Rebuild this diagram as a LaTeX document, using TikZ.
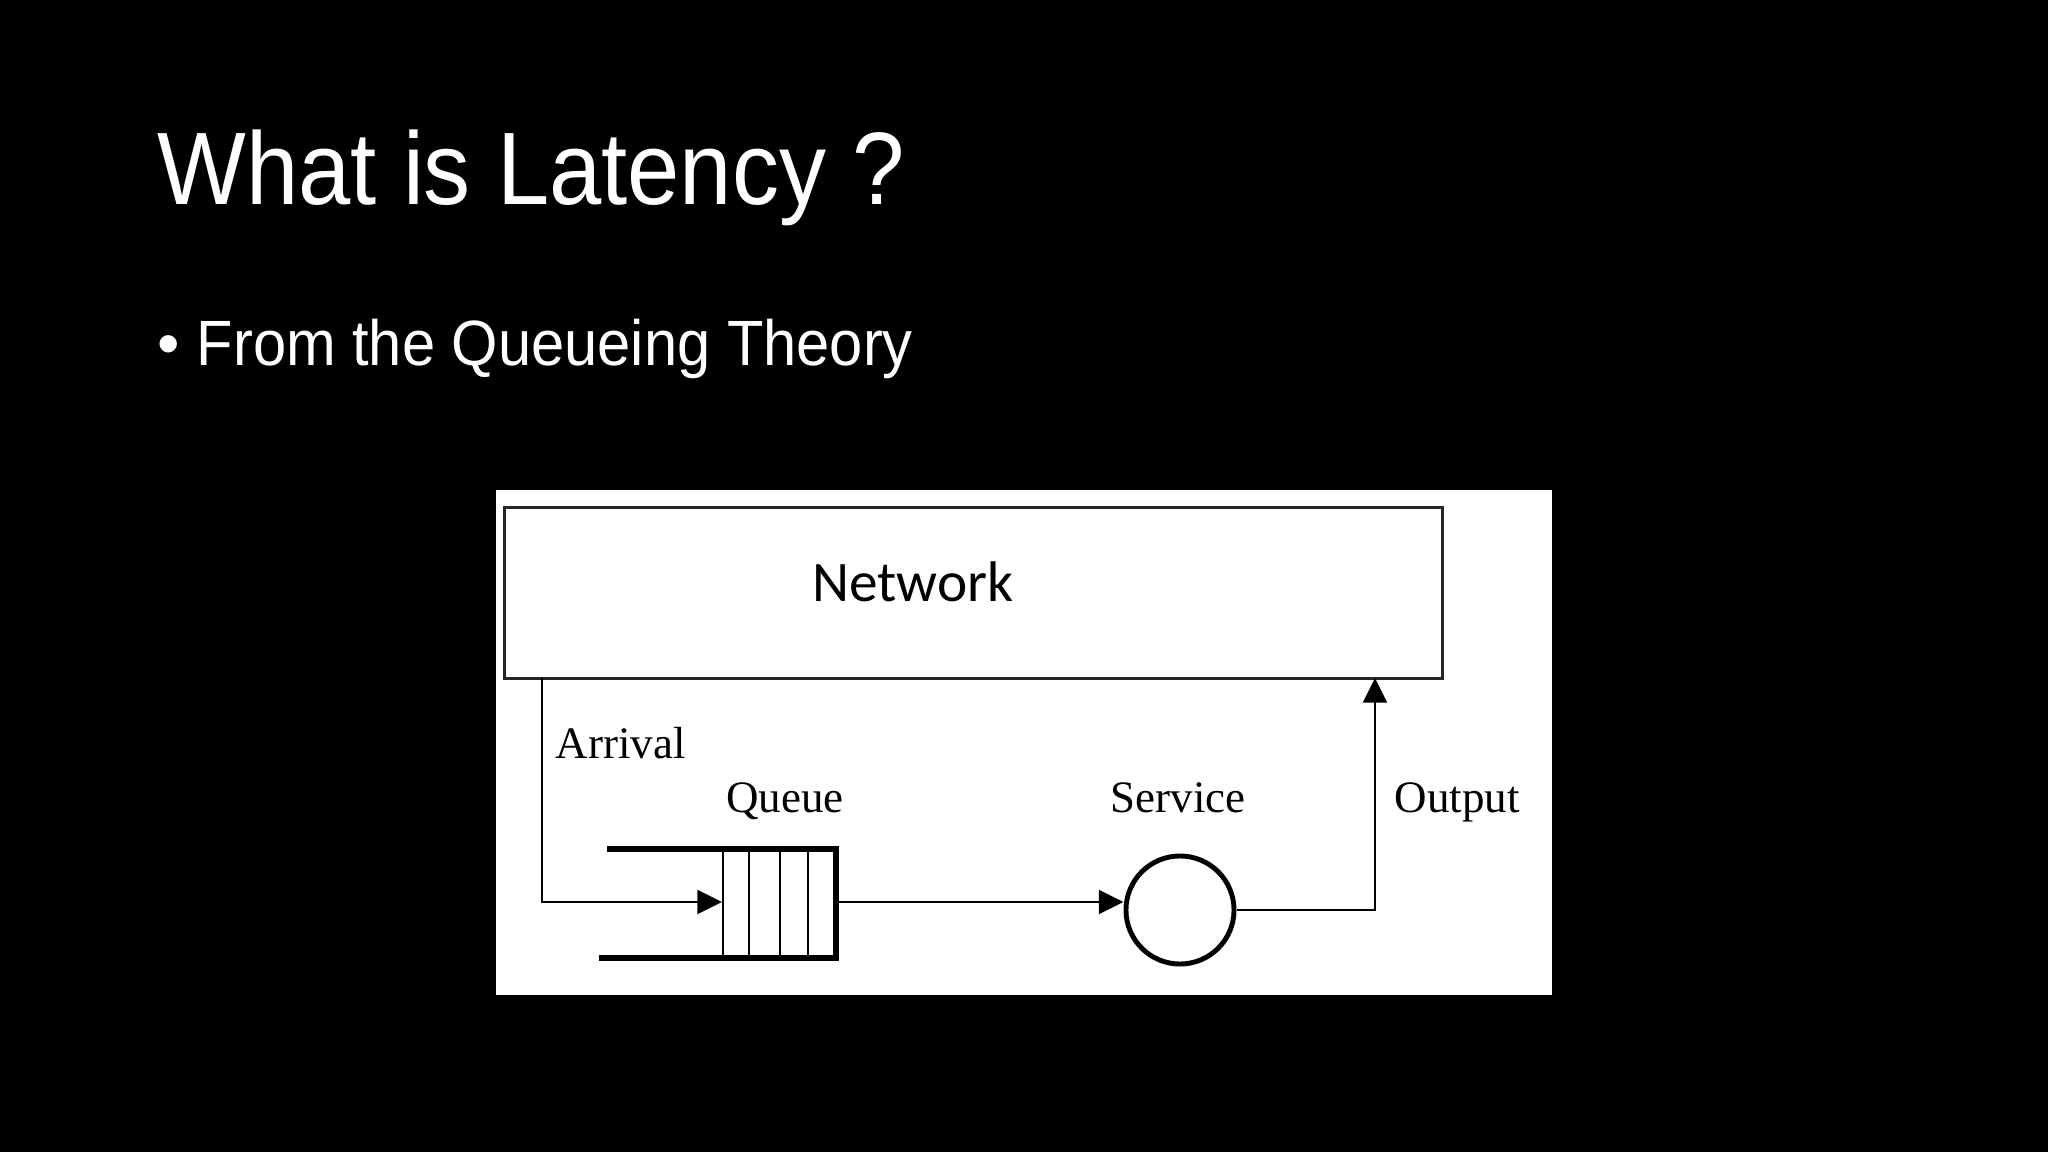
\documentclass[tikz,border=0pt]{standalone}
\usepackage{fontspec}
\setmainfont{Liberation Sans}
\newfontfamily\netfont{Carlito}
\newfontfamily\labfont{Liberation Serif}
\usetikzlibrary{arrows.meta, positioning, calc}

\tikzset{
  slidetext/.style={text=white, inner sep=0pt},
  netbox/.style={draw=black!85, line width=0.85pt, fill=white, minimum width=9.37cm, minimum height=1.7cm, inner sep=0pt},
  qlabel/.style={font=\labfont\fontsize{12.8pt}{15pt}\selectfont, inner sep=0pt},
  flow/.style={line width=0.7pt, -{Triangle[length=7pt, width=6.8pt]}},
  wire/.style={line width=0.7pt},
  qwall/.style={line width=1.7pt},
  srvbox/.style={draw, circle, line width=1.4pt, minimum size=1.08cm, inner sep=0pt}
}

\begin{document}
\begin{tikzpicture}[x=0.01cm, y=-0.01cm]
\fill[black] (0,0) rectangle (2048,1152);
\useasboundingbox (0,0) rectangle (2048,1152);

% Slide heading
\node[slidetext, anchor=base west, font=\fontsize{29.3pt}{35pt}\selectfont] (title) at (157,205) {\scalebox{0.912}[1]{What is Latency ?}};
\node[slidetext, anchor=base west, font=\fontsize{18.2pt}{22pt}\selectfont] (dot) at (157,366) {•};
\node[slidetext, anchor=base west, font=\fontsize{18.2pt}{22pt}\selectfont] (bullet) at (196,366) {\scalebox{0.932}[1]{From the Queueing Theory}};

% White panel
\fill[white] (496,490) rectangle (1552,995);

% Network
\node[netbox] (net) at (973.5,593) {};
\node[font=\netfont\fontsize{16.3pt}{19pt}\selectfont, anchor=base, inner sep=0pt] (nettext) at (913,601) {Network};

% Labels
\node[qlabel, anchor=base west] (arrival) at (555,758) {Arrival};
\node[qlabel, anchor=base] (queuelab) at (785,812) {Queue};
\node[qlabel, anchor=base] (servicelab) at (1178,812) {Service};
\node[qlabel, anchor=base west] (output) at (1394,812) {Output};

% Queue
\coordinate (qin) at (722,902);
\coordinate (qout) at (836,902);
\draw[qwall] (607,849) -- (836,849) -- (836,958) -- (599,958);
\foreach \x in {723, 749, 780, 808} {
  \draw[wire] (\x,849) -- (\x,958);
}

% Service
\node[srvbox] (srv) at (1180,910) {};

% Connectors
\coordinate (arrtop) at (542,678);
\coordinate (outtop) at (1375,678);
\draw[flow] (arrtop) |- (qin);
\draw[flow] (qout) -- (qout -| srv.west);
\draw[flow] (srv.east) -| (outtop);
\end{tikzpicture}
\end{document}
